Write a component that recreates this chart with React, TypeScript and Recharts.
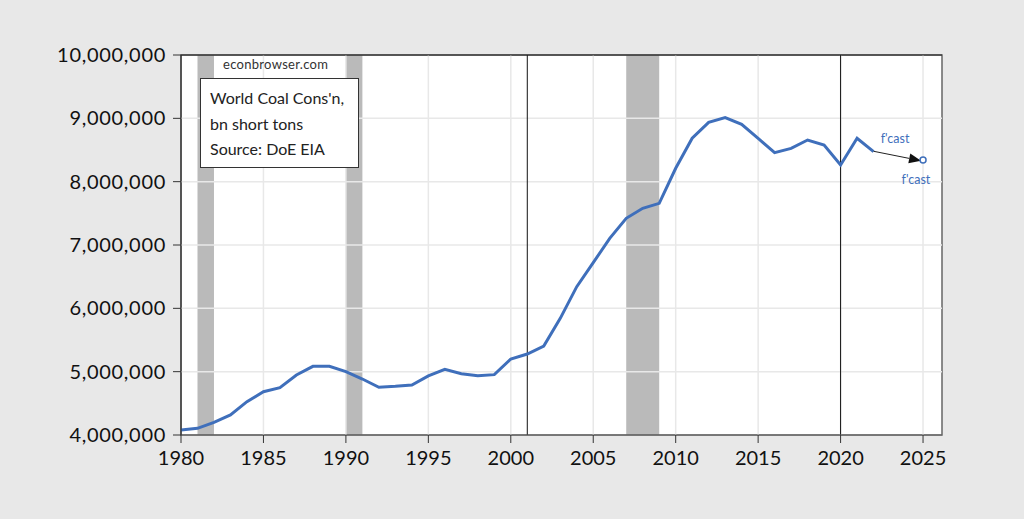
import React from "react";
import {
  ComposedChart,
  Line,
  Scatter,
  XAxis,
  YAxis,
  CartesianGrid,
  ReferenceArea,
  ReferenceLine,
  ReferenceDot,
} from "recharts";

// world coal consumption, short tons (thousands)
const years = [
  1980, 1981, 1982, 1983, 1984, 1985, 1986, 1987, 1988, 1989, 1990, 1991,
  1992, 1993, 1994, 1995, 1996, 1997, 1998, 1999, 2000, 2001, 2002, 2003,
  2004, 2005, 2006, 2007, 2008, 2009, 2010, 2011, 2012, 2013, 2014, 2015,
  2016, 2017, 2018, 2019, 2020, 2021, 2022,
];
const consumption = [
  4079000, 4105000, 4200000, 4316000, 4526000, 4684000, 4747000, 4947000,
  5084000, 5084000, 5000000, 4884000, 4753000, 4768000, 4790000, 4932000,
  5037000, 4968000, 4937000, 4953000, 5200000, 5279000, 5405000, 5842000,
  6342000, 6721000, 7105000, 7421000, 7579000, 7658000, 8211000, 8685000,
  8937000, 9011000, 8905000, 8685000, 8458000, 8526000, 8658000, 8579000,
  8263000, 8685000, 8474000,
];
const forecast = [{ year: 2025, value: 8342000 }];

const recessions = [
  [1981, 1982],
  [1990, 1991],
  [2007, 2009],
];
const markerYears = [2001, 2020];

const xTicks = [1980, 1985, 1990, 1995, 2000, 2005, 2010, 2015, 2020, 2025];
const yTicks = [4000000, 5000000, 6000000, 7000000, 8000000, 9000000, 10000000];

const X_MAX = 2026.15;
const BLUE = "#3f6fbb";
const FONT = "Lato, 'Open Sans', sans-serif";

const coal = years.map((y, i) => ({ year: y, value: consumption[i] }));

const fmt = (v: number) => v.toLocaleString("en-US");

function Arrow(props: any) {
  const { x1, y1, x2, y2 } = props;
  const ang = Math.atan2(y2 - y1, x2 - x1);
  const len = 12;
  const w = 5;
  const bx = x2 - len * Math.cos(ang);
  const by = y2 - len * Math.sin(ang);
  const px = -Math.sin(ang) * w;
  const py = Math.cos(ang) * w;
  return (
    <g>
      <line x1={x1} y1={y1} x2={bx} y2={by} stroke="#222" strokeWidth={1} />
      <polygon
        points={`${x2},${y2} ${bx + px},${by + py} ${bx - px},${by - py}`}
        fill="#111"
      />
    </g>
  );
}

export default function App() {
  return (
    <div
      style={{
        position: "absolute",
        left: 0,
        top: 0,
        width: 1024,
        height: 519,
        background: "#e8e8e8",
        fontFamily: FONT,
      }}
    >
      <ComposedChart
        width={1024}
        height={519}
        margin={{ top: 55, right: 82, left: 0, bottom: 44 }}
      >
        <CartesianGrid fill="#ffffff" horizontal={false} vertical={false} />
        <XAxis
          dataKey="year"
          type="number"
          domain={[1980, X_MAX]}
          ticks={xTicks}
          allowDataOverflow
          height={40}
          tickSize={8}
          tickMargin={8}
          tick={{ fill: "#111", fontSize: 20, fontFamily: FONT }}
          axisLine={{ stroke: "#666" }}
          tickLine={{ stroke: "#333" }}
        />
        <YAxis
          type="number"
          domain={[4000000, 10000000]}
          ticks={yTicks}
          width={181}
          tickSize={8}
          tickMargin={7}
          tickFormatter={fmt}
          tick={{ fill: "#111", fontSize: 20, fontFamily: FONT, letterSpacing: 0.7 }}
          axisLine={{ stroke: "#222" }}
          tickLine={{ stroke: "#333" }}
        />
        {recessions.map(([a, b]) => (
          <ReferenceArea
            key={a}
            x1={a}
            x2={b}
            y1={4000000}
            y2={10000000}
            fill="#bababa"
            fillOpacity={1}
            stroke="none"
          />
        ))}
        {yTicks.slice(1, -1).map((v) => (
          <ReferenceLine key={"h" + v} y={v} stroke="#e8e8e8" strokeWidth={1.5} />
        ))}
        {xTicks.slice(1).map((v) => (
          <ReferenceLine key={"v" + v} x={v} stroke="#e8e8e8" strokeWidth={1.5} />
        ))}
        {markerYears.map((v) => (
          <ReferenceLine key={"m" + v} x={v} stroke="#111" strokeWidth={1} />
        ))}
        <ReferenceArea
          x1={1980}
          x2={X_MAX}
          y1={4000000}
          y2={10000000}
          fill="none"
          stroke="#666"
          strokeWidth={1.5}
        />
        <ReferenceLine y={10000000} stroke="#222" strokeWidth={1} />
        <Line
          data={coal}
          dataKey="value"
          stroke={BLUE}
          strokeWidth={3}
          dot={false}
          isAnimationActive={false}
        />
        <ReferenceLine
          segment={[
            { x: 2022, y: 8480000 },
            { x: 2024.88, y: 8330000 },
          ]}
          shape={Arrow}
        />
        <Scatter
          data={forecast}
          dataKey="value"
          isAnimationActive={false}
          shape={(p: any) => (
            <circle cx={p.cx} cy={p.cy} r={3} fill="#fff" stroke={BLUE} strokeWidth={1.5} />
          )}
        />
        <ReferenceDot
          x={2023.3}
          y={8674000}
          r={0}
          label={{ value: "f'cast", fill: BLUE, fontSize: 12.5, fontFamily: FONT }}
        />
        <ReferenceDot
          x={2024.57}
          y={8027000}
          r={0}
          label={{ value: "f'cast", fill: BLUE, fontSize: 12.5, fontFamily: FONT }}
        />
      </ComposedChart>
      <div
        style={{
          position: "absolute",
          left: 223,
          top: 56,
          fontSize: 13,
          color: "#333",
          letterSpacing: 0.3,
        }}
      >
        econbrowser.com
      </div>
      <div
        style={{
          position: "absolute",
          left: 200,
          top: 78,
          width: 159,
          height: 90,
          border: "1px solid #333",
          background: "#fff",
          fontSize: 16,
          color: "#222",
          lineHeight: "25.5px",
          padding: "6px 0 0 9px",
          boxSizing: "border-box",
        }}
      >
        <div>World Coal Cons'n,</div>
        <div>bn short tons</div>
        <div>Source: DoE EIA</div>
      </div>
    </div>
  );
}
